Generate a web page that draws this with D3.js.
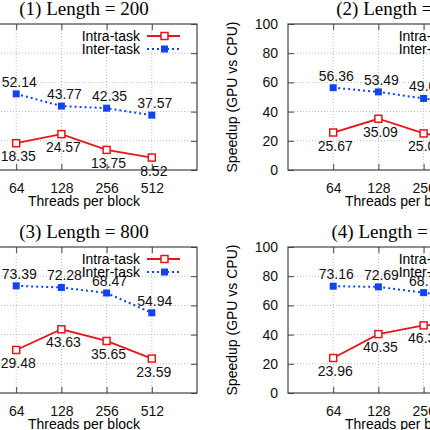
<!DOCTYPE html>
<html>
<head>
<meta charset="utf-8">
<script src="https://cdn.jsdelivr.net/npm/d3@7"></script>
<style>
  body { margin: 0; background: #fff; }
  text { font-family: "Liberation Sans", Arial, sans-serif; }
  .title { font-family: "Liberation Serif", "Times New Roman", serif; font-size: 19px; }
</style>
</head>
<body>
<div id="chart"></div>
<script>
// data
var threads = ["64", "128", "256", "512"];
var titles = ["(1) Length = 200", "(2) Length = 400", "(3) Length = 800", "(4) Length = 1600"];
var intra1 = [18.35, 24.57, 13.75, 8.52];
var inter1 = [52.14, 43.77, 42.35, 37.57];
var intra2 = [25.67, 35.09, 25.03, 20.1];
var inter2 = [56.36, 53.49, 49.02, 45.2];
var intra3 = [29.48, 43.63, 35.65, 23.59];
var inter3 = [73.39, 72.28, 68.47, 54.94];
var intra4 = [23.96, 40.35, 46.31, 48.2];
var inter4 = [73.16, 72.69, 68.72, 65.1];
var yTicks = [0, 20, 40, 60, 80, 100];

var panels = [
  { title: titles[0], intra: intra1, inter: inter1, x0: -29, y0: 24 },
  { title: titles[1], intra: intra2, inter: inter2, x0: 288, y0: 24 },
  { title: titles[2], intra: intra3, inter: inter3, x0: -29, y0: 247 },
  { title: titles[3], intra: intra4, inter: inter4, x0: 288, y0: 247 }
];

var w = 226, h = 146, fs = 14;

var svg = d3.select("#chart").append("svg")
  .attr("width", 430).attr("height", 430);

panels.forEach(function(p) {
  var g = svg.append("g").attr("transform", `translate(${p.x0}, ${p.y0})`);

  var x = d3.scalePoint().domain(threads).range([0, w]).padding(1);
  var y = d3.scaleLinear().domain([0, 100]).range([h, 0]);

  // grid
  g.selectAll(".hg").data(yTicks.slice(1, -1)).enter().append("line")
    .attr("x1", 0).attr("x2", w)
    .attr("y1", d => y(d)).attr("y2", d => y(d))
    .attr("stroke", "#bbb").attr("stroke-dasharray", "1,2");
  g.selectAll(".vg").data(threads).enter().append("line")
    .attr("x1", d => x(d)).attr("x2", d => x(d))
    .attr("y1", 0).attr("y2", h)
    .attr("stroke", "#bbb").attr("stroke-dasharray", "1,2");

  // axes
  var yAxis = d3.axisLeft(y).tickValues(yTicks).tickSize(-6).tickPadding(10);
  var yAxisR = d3.axisRight(y).tickValues(yTicks).tickSize(-6).tickFormat("");
  var xAxis = d3.axisBottom(x).tickSize(-6).tickPadding(13);
  var xAxisT = d3.axisTop(x).tickSize(-6).tickFormat("");

  [g.append("g").call(yAxis),
   g.append("g").attr("transform", `translate(${w},0)`).call(yAxisR),
   g.append("g").attr("transform", `translate(0,${h})`).call(xAxis),
   g.append("g").call(xAxisT)].forEach(function(a) {
    a.select(".domain").remove();
    a.selectAll("line").attr("stroke", "#444");
    a.selectAll("text").attr("font-size", fs).attr("fill", "#111")
      .style("font-family", "'Liberation Sans', Arial, sans-serif");
  });

  g.append("rect").attr("width", w).attr("height", h)
    .attr("fill", "none").attr("stroke", "#444").attr("stroke-width", 1.2);

  // lines
  var line = d3.line().x((d, i) => x(threads[i])).y(d => y(d));
  g.append("path").datum(p.inter).attr("d", line)
    .attr("fill", "none").attr("stroke", "#1144ee").attr("stroke-width", 2)
    .attr("stroke-dasharray", "2,3");
  g.append("path").datum(p.intra).attr("d", line)
    .attr("fill", "none").attr("stroke", "#e8141c").attr("stroke-width", 1.8);

  g.selectAll(".im").data(p.inter).enter().append("rect")
    .attr("x", (d, i) => x(threads[i]) - 3.5).attr("y", d => y(d) - 3.5)
    .attr("width", 7).attr("height", 7).attr("fill", "#1144ee");
  g.selectAll(".rm").data(p.intra).enter().append("rect")
    .attr("x", (d, i) => x(threads[i]) - 3.5).attr("y", d => y(d) - 3.5)
    .attr("width", 7).attr("height", 7).attr("fill", "#fff")
    .attr("stroke", "#e8141c").attr("stroke-width", 1.5);

  // value labels
  g.selectAll(".il").data(p.inter).enter().append("text")
    .attr("x", (d, i) => x(threads[i]) + 3).attr("y", d => y(d) - 7)
    .attr("text-anchor", "middle").attr("font-size", fs).attr("fill", "#111")
    .text(d => d.toFixed(2));
  g.selectAll(".rl").data(p.intra).enter().append("text")
    .attr("x", (d, i) => x(threads[i]) + 2).attr("y", d => y(d) + 18)
    .attr("text-anchor", "middle").attr("font-size", fs).attr("fill", "#111")
    .text(d => d.toFixed(2));

  // legend
  var lg = g.append("g").attr("transform", `translate(${w - 57}, 12)`);
  lg.append("text").attr("x", 0).attr("y", 5).attr("text-anchor", "end")
    .attr("font-size", fs).text("Intra-task");
  lg.append("line").attr("x1", 7).attr("x2", 40).attr("y1", 0).attr("y2", 0)
    .attr("stroke", "#e8141c").attr("stroke-width", 1.8);
  lg.append("rect").attr("x", 21).attr("y", -3.5).attr("width", 7).attr("height", 7)
    .attr("fill", "#fff").attr("stroke", "#e8141c").attr("stroke-width", 1.5);
  lg.append("text").attr("x", 0).attr("y", 18).attr("text-anchor", "end")
    .attr("font-size", fs).text("Inter-task");
  lg.append("line").attr("x1", 7).attr("x2", 40).attr("y1", 13).attr("y2", 13)
    .attr("stroke", "#1144ee").attr("stroke-width", 2).attr("stroke-dasharray", "2,3");
  lg.append("rect").attr("x", 21).attr("y", 9.5).attr("width", 7).attr("height", 7)
    .attr("fill", "#1144ee");

  // titles
  g.append("text").attr("class", "title").attr("x", w / 2).attr("y", -9)
    .attr("text-anchor", "middle").text(p.title);
  g.append("text").attr("x", w / 2).attr("y", h + 36)
    .attr("text-anchor", "middle").attr("font-size", fs).text("Threads per block");
  g.append("text").attr("transform", "rotate(-90)")
    .attr("x", -h / 2).attr("y", -56).attr("dy", "0.35em")
    .attr("text-anchor", "middle").attr("font-size", fs).text("Speedup (GPU vs CPU)");
});
</script>
</body>
</html>
